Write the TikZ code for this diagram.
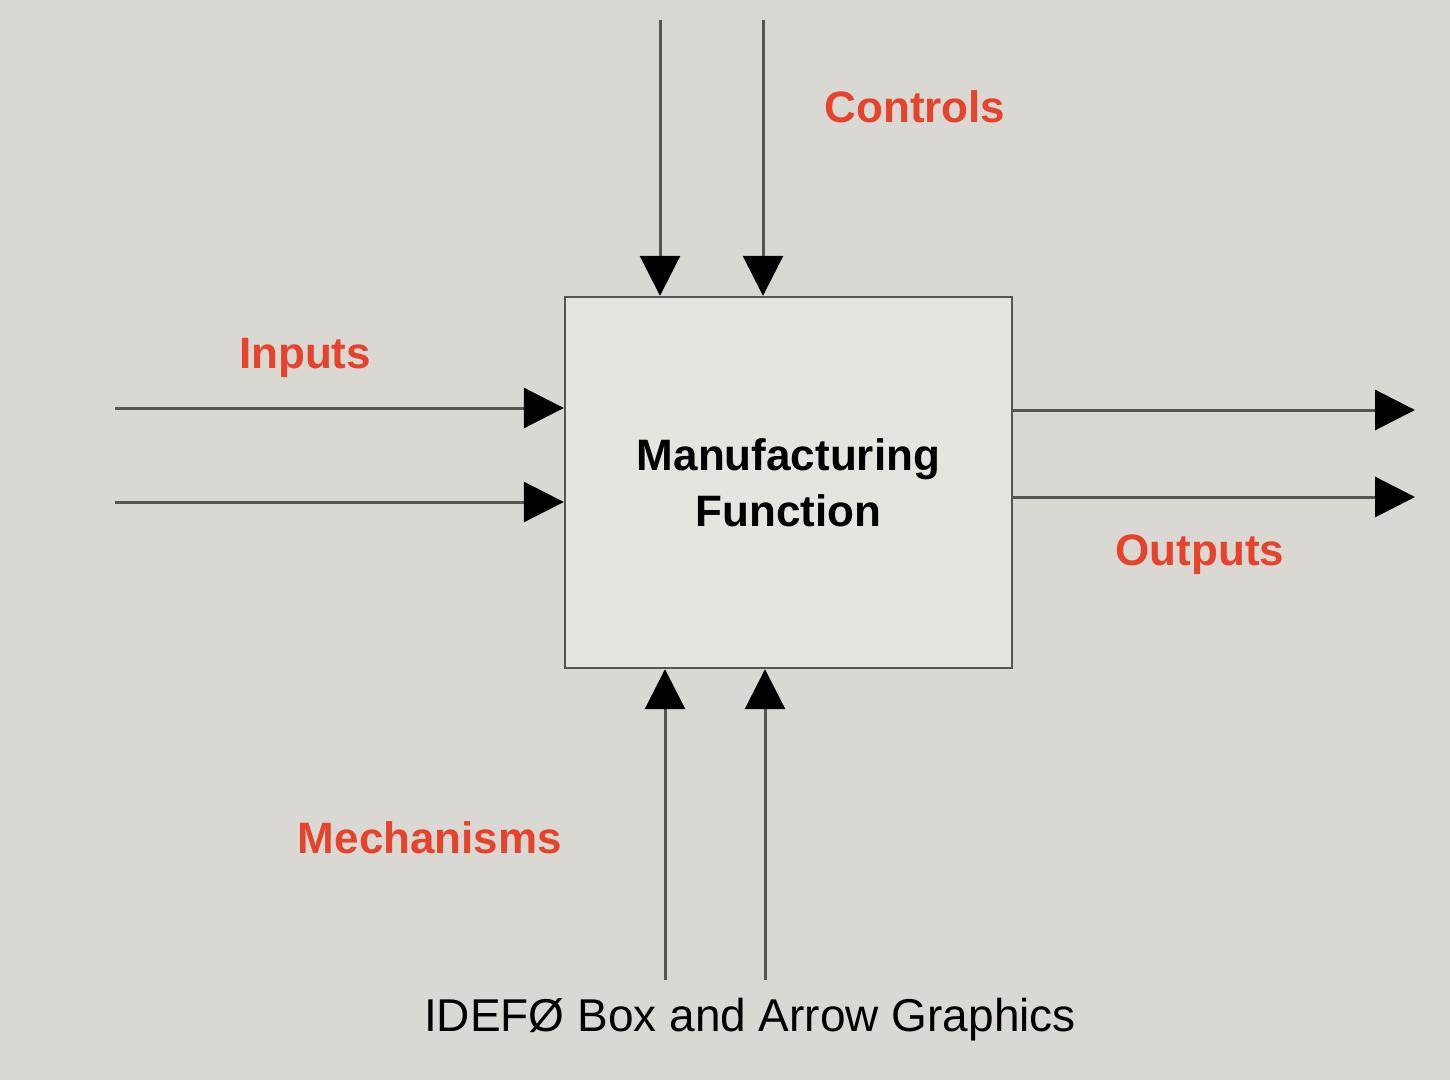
\documentclass[tikz,border=0pt]{standalone}
\usepackage{fontspec}
\setmainfont{Liberation Sans}
\usetikzlibrary{arrows.meta}
\definecolor{bg}{HTML}{DAD8D2}
\definecolor{lbl}{HTML}{E5432B}
\definecolor{ln}{HTML}{555555}
\begin{document}
\begin{tikzpicture}[x=0.5pt,y=-0.5pt,
  arr/.style={draw=ln,line width=1.5pt,-{Triangle[length=20pt,width=20pt,fill=black,color=black]}},
  lab/.style={text=lbl,font=\fontsize{22}{26}\selectfont\bfseries}]
\fill[bg] (0,0) rectangle (1450,1080);
\useasboundingbox (0,0) rectangle (1450,1080);
\node[draw=ln,line width=1.2pt,fill=bg!70!white,minimum width=223.5pt,minimum height=185.5pt,align=center,font=\fontsize{22}{28}\selectfont\bfseries] (box) at (788.5,482.5) {Manufacturing\\Function};
\coordinate (c1) at (660,20); \coordinate (c2) at (763,20);
\coordinate (i1) at (115,408); \coordinate (i2) at (115,502);
\coordinate (o1) at (1415,410); \coordinate (o2) at (1415,497);
\coordinate (m1) at (665,980); \coordinate (m2) at (765,980);
\draw[arr] (c1) -- (c1 |- box.north);
\draw[arr] (c2) -- (c2 |- box.north);
\draw[arr] (i1) -- (i1 -| box.west);
\draw[arr] (i2) -- (i2 -| box.west);
\draw[arr] (o1 -| box.east) -- (o1);
\draw[arr] (o2 -| box.east) -- (o2);
\draw[arr] (m1) -- (m1 |- box.south);
\draw[arr] (m2) -- (m2 |- box.south);
\node[lab] (lc) at (915,107) {Controls};
\node[lab] (li) at (305,358) {Inputs};
\node[lab] (lo) at (1200,555) {Outputs};
\node[lab] (lm) at (430,838) {Mechanisms};
\node[font=\fontsize{23}{28}\selectfont] (cap) at (750,1020) {IDEFØ Box and Arrow Graphics};
\end{tikzpicture}
\end{document}
